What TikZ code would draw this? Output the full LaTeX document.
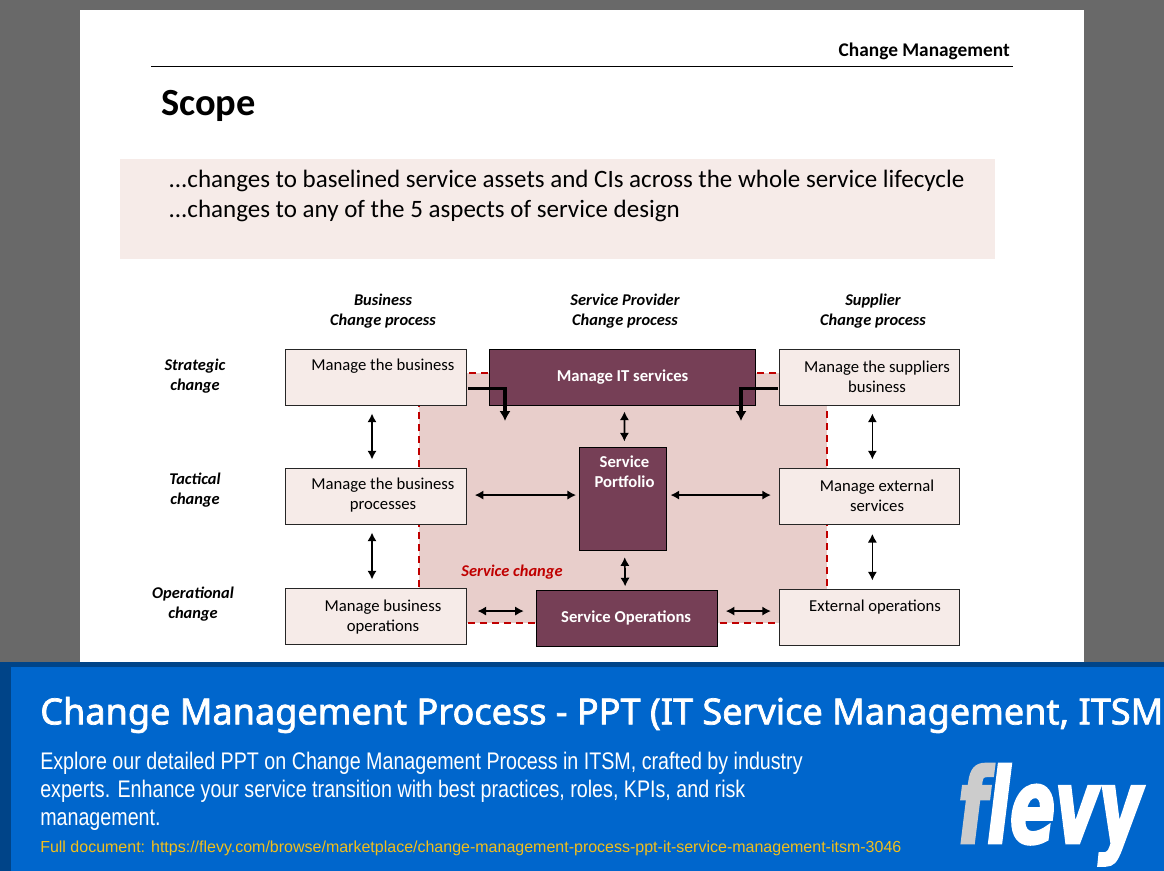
\documentclass[tikz,border=0pt]{standalone}
\usepackage{fontspec}
\setmainfont{Carlito}
\newfontfamily\titlefont{Noto Sans}[FakeBold=2]
\newfontfamily\blurbfont{Liberation Sans}[FakeStretch=0.82]
\newfontfamily\linkfont{Liberation Sans}
\newfontfamily\logofont{DejaVu Sans}[FakeStretch=0.64,FakeBold=2.5]
\usetikzlibrary{arrows.meta}
\definecolor{canvas}{HTML}{696969}
\definecolor{strip}{HTML}{F6EBE8}
\definecolor{zone}{HTML}{E8CECB}
\definecolor{plum}{HTML}{763F56}
\definecolor{changered}{HTML}{C00000}
\definecolor{bannerdark}{HTML}{004488}
\definecolor{bannerblue}{HTML}{0066CC}
\definecolor{linkgold}{HTML}{F2BE1A}
\newcommand{\boxtext}[3]{\raisebox{#2}[0pt][0pt]{\makebox[0pt]{\hspace*{#1}\begin{tabular}{@{}c@{}}#3\end{tabular}}}}
\begin{document}
\begin{tikzpicture}[x=0.75pt,y=-0.75pt,
	lightbox/.style={draw=black!85,line width=0.75pt,fill=strip,minimum width=135.4pt,minimum height=42pt,inner sep=0pt,font=\fontsize{12.5}{15}\selectfont},
	darkbox/.style={draw=black,line width=0.75pt,fill=plum,text=white,inner sep=0pt,font=\fontsize{12.5}{15}\selectfont\bfseries},
	heading/.style={align=center,inner sep=0pt,font=\fontsize{12.3}{15}\selectfont\bfseries\itshape},
	both/.style={{Latex[length=6.5pt,width=7pt]}-{Latex[length=6.5pt,width=7pt]},line width=1.3pt},
	elbow/.style={-{Latex[length=7.5pt,width=8.5pt]},line width=2.3pt},
	dashline/.style={draw=changered,line width=1.6pt,dash pattern=on 5.5pt off 3.5pt}]
	\useasboundingbox (0,0) rectangle (1164,871);
	\fill[canvas] (0,0) rectangle (1164,871);
	\fill[white] (80,10) rectangle (1084,662);
	\node[inner sep=0pt,anchor=east,font=\fontsize{14.5}{17}\selectfont\bfseries] (running) at (1010,51.5) {Change Management};
	\coordinate (ruleL) at (151,66.5);
	\coordinate (ruleR) at (1013,66.5);
	\draw[line width=0.75pt] (ruleL) -- (ruleR);
	\node[inner sep=0pt,anchor=west,font=\fontsize{28.8}{32}\selectfont\bfseries] (scope) at (161,106) {Scope};
	\fill[strip] (120,159) rectangle (995,259);
	\node[inner sep=0pt,anchor=north west,align=left,font=\fontsize{18.75}{22.5}\selectfont] (scopetext) at (168.3,170) {...changes to baselined service assets and CIs across the whole service lifecycle\\...changes to any of the 5 aspects of service design};

	\fill[zone] (419,373) rectangle (827,623);
	\draw[dashline] (419,623) -- (419,373) -- (827,373) -- (827,623) -- cycle;

	\node[heading] (headbiz) at (383,311) {Business\\Change process};
	\node[heading] (headprov) at (625,311) {Service Provider\\Change process};
	\node[heading] (headsup) at (873,311) {Supplier\\Change process};
	\node[heading] (rowstrat) at (195,376) {Strategic\\change};
	\node[heading] (rowtact) at (195,490) {Tactical\\change};
	\node[heading] (rowop) at (193,604) {Operational\\change};

	\node[lightbox] (bizstrat) at (376,377) {\boxtext{10.5pt}{4.8pt}{Manage the business}};
	\node[lightbox] (biztact) at (376,496) {\boxtext{10.5pt}{-2.7pt}{Manage the business\\processes}};
	\node[lightbox] (bizop) at (376,616) {\boxtext{10.5pt}{-4.2pt}{Manage business\\operations}};
	\node[lightbox] (supstrat) at (869.7,377) {\boxtext{11pt}{-4.2pt}{Manage the suppliers\\business}};
	\node[lightbox] (suptact) at (869.7,496) {\boxtext{11pt}{-4.2pt}{Manage external\\services}};
	\node[lightbox] (supop) at (869.7,617) {\boxtext{8pt}{4pt}{External operations}};
	\node[darkbox,minimum width=200pt,minimum height=42pt] (itserv) at (622.6,377) {\boxtext{0pt}{-3.5pt}{Manage IT services}};
	\node[darkbox,minimum width=65pt,minimum height=77.5pt] (portfolio) at (623.3,499) {\boxtext{1.8pt}{16pt}{Service\\Portfolio}};
	\node[darkbox,minimum width=135.7pt,minimum height=41.8pt] (servops) at (626.8,618.8) {\boxtext{-1pt}{-2.9pt}{Service Operations}};
	\node[heading,text=changered] (svcchange) at (512,572) {Service change};

	\draw[both,shorten <=6pt,shorten >=6pt] ([xshift=-3pt]bizstrat.south) -- ([xshift=-3pt]biztact.north);
	\draw[both,shorten <=6pt,shorten >=6pt] ([xshift=-3pt]biztact.south) -- ([xshift=-3pt]bizop.north);
	\draw[both,shorten <=6pt,shorten >=6pt] ([xshift=2pt]supstrat.south) -- ([xshift=2pt]suptact.north);
	\draw[both,shorten <=7pt,shorten >=6pt] ([xshift=2pt]suptact.south) -- ([xshift=2pt]supop.north);
	\draw[both,shorten <=4.5pt,shorten >=4pt] ([xshift=1.4pt]itserv.south) -- ([xshift=0.8pt]portfolio.north);
	\draw[both,shorten <=4.5pt,shorten >=3pt] ([xshift=1pt]portfolio.south) -- ([xshift=-1.2pt]servops.north);
	\draw[both,shorten <=6pt,shorten >=2.5pt] ([yshift=0.7pt]biztact.east) -- ([yshift=0.7pt]biztact.east -| portfolio.west);
	\draw[both,shorten <=2.5pt,shorten >=6pt] ([yshift=0.7pt]suptact.west -| portfolio.east) -- ([yshift=0.7pt]suptact.west);
	\draw[both,shorten <=8pt,shorten >=9pt] ([yshift=3.7pt]bizop.east) -- ([yshift=3.7pt]bizop.east -| servops.west);
	\draw[both,shorten <=6pt,shorten >=6pt] ([yshift=3.7pt]bizop.east -| servops.east) -- ([yshift=3.7pt]bizop.east -| supop.west);
	\coordinate (bizdrop) at (505,421);
	\coordinate (supdrop) at (741,421);
	\draw[elbow,shorten <=1pt] ([yshift=-8.3pt]bizstrat.east) -| (bizdrop);
	\draw[elbow,shorten <=1pt] ([yshift=-8.3pt]supstrat.west) -| (supdrop);

	\fill[bannerdark] (0,662) rectangle (1164,871);
	\fill[bannerblue] (11,667) rectangle (1164,871);
	\node[inner sep=0pt,anchor=west,text=white,font=\fontsize{27.05}{32}\titlefont] (bannertitle) at (40,715) {Change Management Process - PPT (IT Service Management, ITSM};
	\node[inner sep=0pt,anchor=north west,align=left,text=white,font=\fontsize{18}{21}\blurbfont] (blurb) at (40,752) {Explore our detailed PPT on Change Management Process in ITSM, crafted by industry\\experts. Enhance your service transition with best practices, roles, KPIs, and risk\\management.};
	\node[inner sep=0pt,anchor=west,text=linkgold,font=\fontsize{12}{15}\linkfont] (doclink) at (40,848) {Full document: https://flevy.com/browse/marketplace/change-management-process-ppt-it-service-management-itsm-3046};
	\node[inner sep=0pt,anchor=base west,text=white,font=\fontsize{78}{80}\logofont\bfseries\itshape] (logo) at (958,843) {\textcolor[HTML]{CCCCCC}{f}levy};
\end{tikzpicture}
\end{document}
